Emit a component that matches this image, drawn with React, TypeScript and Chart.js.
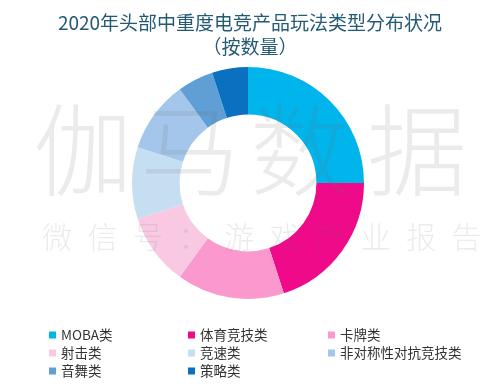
import React, { useEffect, useRef } from "react";
import { Chart, registerables } from "chart.js";

Chart.register(...registerables);

const titleLines = ["2020年头部中重度电竞产品玩法类型分布状况", "（按数量）"];
const categories = ["MOBA类", "体育竞技类", "卡牌类", "射击类", "竞速类", "非对称性对抗竞技类", "音舞类", "策略类"];
const counts = [10, 8, 6, 4, 4, 4, 2, 2];
const colors = ["#00b4ec", "#ee0a89", "#fb98cd", "#f9c9e3", "#c6def2", "#a4c6ea", "#5f9fd6", "#0a70bf"];
const watermarkBig = "伽马数据";
const watermarkSmall = "微信号：游戏产业报告";

const FONT = '"Noto Sans CJK SC", "Noto Sans", sans-serif';

const overlayPlugin = {
  id: "overlay",
  afterDatasetsDraw(chart: any) {
    const ctx = chart.ctx as CanvasRenderingContext2D;
    ctx.save();
    // watermark
    ctx.fillStyle = "rgba(110,110,110,0.14)";
    ctx.textAlign = "center";
    ctx.textBaseline = "middle";
    ctx.font = `300 100px ${FONT}`;
    const bigX = [83, 190, 300, 417];
    watermarkBig.split("").forEach((c, i) => ctx.fillText(c, bigX[i], 150));
    ctx.font = `300 30px ${FONT}`;
    const small = watermarkSmall.split("");
    small.forEach((c, i) => ctx.fillText(c, 57 + i * 45.5, 237));
    ctx.restore();
  },
  afterDraw(chart: any) {
    const ctx = chart.ctx as CanvasRenderingContext2D;
    ctx.save();
    // title
    ctx.fillStyle = "#245a74";
    ctx.textAlign = "center";
    ctx.textBaseline = "middle";
    ctx.font = `19px ${FONT}`;
    ctx.fillText(titleLines[0], 250, 23);
    ctx.fillText(titleLines[1], 250, 47);
    // legend
    const colX = [49, 188, 328];
    const rowY = [335, 353, 371];
    ctx.textAlign = "left";
    ctx.font = `13.5px ${FONT}`;
    categories.forEach((label, i) => {
      const x = colX[i % 3];
      const y = rowY[Math.floor(i / 3)];
      ctx.fillStyle = colors[i];
      ctx.fillRect(x, y - 3.5, 7, 7);
      ctx.fillStyle = "#333333";
      ctx.fillText(label, x + 12, y);
    });
    ctx.restore();
  },
};

export default function App() {
  const ref = useRef<HTMLCanvasElement>(null);
  useEffect(() => {
    document.body.style.margin = "0";
    const chart = new Chart(ref.current!, {
      type: "doughnut",
      data: {
        labels: categories,
        datasets: [
          {
            data: counts,
            backgroundColor: colors,
            borderWidth: 0,
          },
        ],
      },
      options: {
        animation: false,
        responsive: false,
        cutout: "59%",
        layout: { padding: { top: 67, bottom: 89, left: 0, right: 8 } },
        plugins: {
          legend: { display: false },
          title: { display: false },
          tooltip: { enabled: false },
        },
      },
      plugins: [overlayPlugin],
    });
    return () => chart.destroy();
  }, []);
  return (
    <div style={{ width: 504, height: 388, background: "#fff" }}>
      <canvas ref={ref} width={504} height={388} style={{ width: 504, height: 388, display: "block" }} />
    </div>
  );
}
